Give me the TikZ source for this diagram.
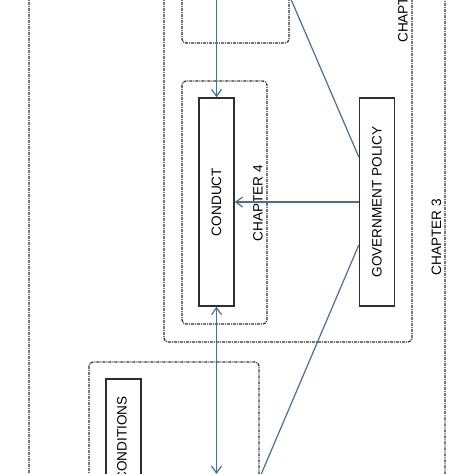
\documentclass[tikz,border=0pt]{standalone}
\usepackage{fontspec}
\setmainfont{Liberation Sans}
\usetikzlibrary{arrows.meta}
\definecolor{arrowblue}{HTML}{4A6E9C}
\definecolor{boxgrey}{HTML}{2E2E2E}
\tikzset{
  dashbox/.style={draw=boxgrey, line width=1.2pt, rounded corners=4pt,
    dash pattern=on 3pt off 1pt on 1pt off 1pt},
  solidbox/.style={draw=boxgrey, line width=1.4pt, minimum width=35pt,
    minimum height=208pt, inner sep=0pt, font=\fontsize{13.6}{15}\selectfont},
  lbl/.style={inner sep=0pt, rotate=90, font=\fontsize{13.6}{15}\selectfont},
  conn/.style={draw=arrowblue, line width=1.2pt},
  tip/.style={-{Straight Barb[length=7pt,width=10pt]}},
  twotip/.style={{Straight Barb[length=7pt,width=10pt]}-{Straight Barb[length=7pt,width=10pt]}}
}
\begin{document}
\begin{tikzpicture}[x=1pt,y=-1pt]
\useasboundingbox (0,0) rectangle (474,474);
\clip (0,0) rectangle (474,474);
% dashed frames
\draw[dashbox] (29,-20) rectangle (445,494);
\draw[dashbox] (164,-20) rectangle (412,342);
\draw[dashbox] (182,-20) rectangle (289,43);
\draw[dashbox] (182,81) rectangle (267,324);
\draw[dashbox] (89,362) rectangle (259,520);
% solid boxes
\node[solidbox] (conduct) at (216.5,202) {\rotatebox{90}{CONDUCT}};
\node[solidbox] (gov) at (377,202) {\rotatebox{90}{GOVERNMENT POLICY}};
\node[draw=boxgrey, line width=1.4pt, minimum width=35pt, minimum height=150pt, inner sep=0pt] (condbox) at (123.5,454) {};
% labels
\node[lbl, anchor=east] (condtext) at (122,396) {CONDITIONS};
\node[lbl] (ch4) at (258,203) {CHAPTER 4};
\node[lbl] (ch3) at (436.5,237) {CHAPTER 3};
\node[lbl, anchor=west] (ch2) at (403,43) {CHAPT};
% connectors
\coordinate (topin) at (216.5,-10);
\coordinate (botout) at (216.5,474);
\coordinate (diagtop) at (287,-10);
\coordinate (diagbot) at (257,484);
\draw[conn, tip] (topin) -- (conduct.north);
\draw[conn, tip] (gov.west) -- (conduct.east);
\draw[conn, twotip] (conduct.south) -- (botout);
\draw[conn] (diagtop) -- ([yshift=45pt]gov.west);
\draw[conn] ([yshift=-43pt]gov.west) -- (diagbot);
\end{tikzpicture}
\end{document}
